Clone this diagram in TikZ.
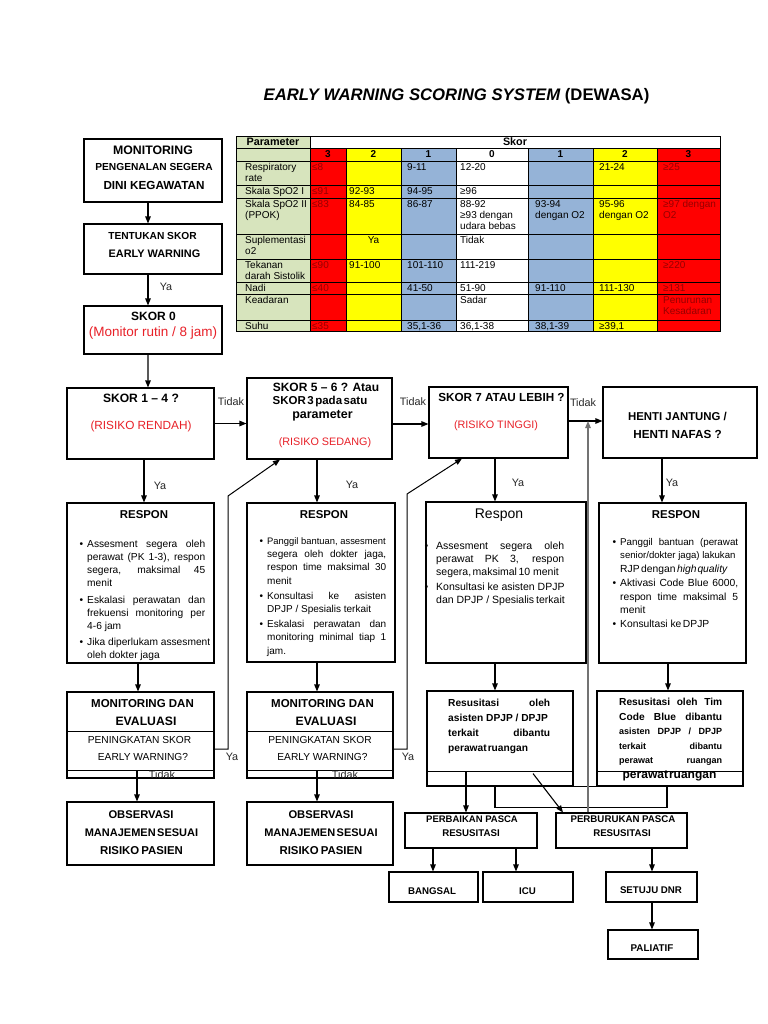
\documentclass[tikz,border=0pt]{standalone}
\usepackage{fontspec}
\setmainfont{Liberation Sans}
\usetikzlibrary{arrows.meta,fit}
\definecolor{rk}{RGB}{232,32,40}
\definecolor{tg}{RGB}{215,228,189}
\definecolor{tb}{RGB}{149,179,215}
\definecolor{ty}{RGB}{255,255,0}
\definecolor{tr}{RGB}{255,0,0}
\definecolor{tdr}{RGB}{150,0,0}
\definecolor{lg}{RGB}{40,40,40}
\definecolor{ug}{RGB}{115,115,115}
\newcommand{\fs}[2]{\fontsize{#1bp}{#2bp}\selectfont}
\newcommand{\J}[2]{\makebox[#1bp][s]{#2}}
\newcommand{\bul}{\llap{\textbullet\hspace{4bp}}}
\newcommand{\strt}[1]{\rule{0pt}{#1bp}}
\newcommand{\bx}[5]{\node[box, fit={(#2,#3) (#4,#5)}] (#1) {};}
\newcommand{\tx}[5]{\node[txt, font=\fs{#4}{#4}] (#1) at (#2,#3) {#5};}
\newcommand{\tcell}[5][black]{\node[cell,text=#1] (#2) at (#3,#4) {\strt{8}#5};}
\begin{document}
\begin{tikzpicture}[x=1bp,y=-1bp,
  box/.style={draw, line width=1.1bp, inner sep=0pt},
  arr/.style={-{Triangle[length=7bp,width=5.5bp]}, line width=1.1bp},
  txt/.style={inner sep=0pt, align=center},
  lab/.style={inner sep=0pt, font=\fs{10.8}{10.8}, text=lg},
  cell/.style={inner sep=0pt, anchor=north west, align=left, font=\fs{10}{11}},
  blist/.style={inner sep=0pt, anchor=north west, align=left},
  tl/.style={line width=0.8bp}]
\fill[white] (0,0) rectangle (768,1024);
\useasboundingbox (0,0) rectangle (768,1024);

% title
\node[txt, font=\fs{16.7}{16.7}] (title) at (456.5,96) {\bfseries\itshape EARLY WARNING SCORING SYSTEM \upshape(DEWASA)};

% ---------------- table
\fill[tg] (236,136) rectangle (310,331);
\fill[white] (310,136) rectangle (720,148);
\fill[tr] (310,148) rectangle (346,331);
\fill[ty] (346,148) rectangle (401,331);
\fill[tb] (401,148) rectangle (456,331);
\fill[white] (456,148) rectangle (528,331);
\fill[tb] (528,148) rectangle (593,331);
\fill[ty] (593,148) rectangle (657,331);
\fill[tr] (657,148) rectangle (720,331);
\draw[tl] (236,136) rectangle (720,331);
\foreach \y in {148,161,185,198,234,259,282,294,320} \draw[tl] (236,\y) -- (720,\y);
\draw[tl] (310,136) -- (310,331);
\foreach \x in {346,401,456,528,593,657} \draw[tl] (\x,148) -- (\x,331);

\node[txt, font=\fs{10.8}{10.8}\bfseries] (hpar) at (273,142) {Parameter};
\node[txt, font=\fs{10.8}{10.8}\bfseries] (hskor) at (515,142) {Skor};
\node[txt, font=\fs{10}{10}\bfseries] (n3a) at (328,154.5) {3};
\node[txt, font=\fs{10}{10}\bfseries] (n2a) at (373.5,154.5) {2};
\node[txt, font=\fs{10}{10}\bfseries] (n1a) at (428.5,154.5) {1};
\node[txt, font=\fs{10}{10}\bfseries] (n0) at (492,154.5) {0};
\node[txt, font=\fs{10}{10}\bfseries] (n1b) at (560.5,154.5) {1};
\node[txt, font=\fs{10}{10}\bfseries] (n2b) at (625,154.5) {2};
\node[txt, font=\fs{10}{10}\bfseries] (n3b) at (688.5,154.5) {3};

% respiratory
\tcell{rrp}{245}{162}{Respiratory\\rate}
\tcell[tdr]{rr3}{312}{162}{≤8}
\tcell{rr1}{407}{162}{9-11}
\tcell{rr0}{460}{162}{12-20}
\tcell{rr2b}{599}{162}{21-24}
\tcell[tdr]{rr3b}{663}{162}{≥25}
% spo2 I
\tcell{s1p}{245}{186}{Skala SpO2 I}
\tcell[tdr]{s13}{312}{186}{≤91}
\tcell{s12}{349}{186}{92-93}
\tcell{s11}{407}{186}{94-95}
\tcell{s10}{460}{186}{≥96}
% spo2 II
\tcell{s2p}{245}{199}{Skala SpO2 II\\(PPOK)}
\tcell[tdr]{s23}{312}{199}{≤83}
\tcell{s22}{349}{199}{84-85}
\tcell{s21}{407}{199}{86-87}
\tcell{s20}{460}{199}{88-92\\≥93 dengan\\udara bebas}
\tcell{s21b}{535}{199}{93-94\\dengan O2}
\tcell{s22b}{599}{199}{95-96\\dengan O2}
\tcell[tdr]{s23b}{663}{199}{≥97 dengan\\O2}
% suplementasi
\tcell{sop}{245}{235}{Suplementasi\\o2}
\node[txt, font=\fs{10}{10}] (so2) at (373.5,240) {Ya};
\tcell{so0}{460}{235}{Tidak}
% tekanan
\tcell{tdp}{245}{260}{Tekanan\\darah Sistolik}
\tcell[tdr]{td3}{312}{260}{≤90}
\tcell{td2}{349}{260}{91-100}
\tcell{td1}{407}{260}{101-110}
\tcell{td0}{460}{260}{111-219}
\tcell[tdr]{td3b}{663}{260}{≥220}
% nadi
\tcell{ndp}{245}{283}{Nadi}
\tcell[tdr]{nd3}{312}{283}{≤40}
\tcell{nd1}{407}{283}{41-50}
\tcell{nd0}{460}{283}{51-90}
\tcell{nd1b}{535}{283}{91-110}
\tcell{nd2b}{599}{283}{111-130}
\tcell[tdr]{nd3b}{663}{283}{≥131}
% keadaran
\tcell{kdp}{245}{295}{Keadaran}
\tcell{kd0}{460}{295}{Sadar}
\tcell[tdr]{kd3b}{663}{295}{Penurunan\\Kesadaran}
% suhu
\tcell{shp}{245}{321}{Suhu}
\tcell[tdr]{sh3}{312}{321}{≤35}
\tcell{sh1}{407}{321}{35,1-36}
\tcell{sh0}{460}{321}{36,1-38}
\tcell{sh1b}{535}{321}{38,1-39}
\tcell{sh2b}{599}{321}{≥39,1}

% ---------------- boxes
\bx{mon}{84}{139}{222}{202}
\bx{ten}{84}{224}{222}{274}
\bx{sk0}{84}{306}{222}{354}
\bx{s14}{67}{388}{214}{459}
\bx{s56}{247}{378}{392}{459}
\bx{s7}{429}{387}{568}{458}
\bx{hj}{603}{387}{757}{458}
\bx{r1}{67}{503}{214}{663}
\bx{r2}{247}{503}{395}{662}
\bx{r3}{426}{502}{586}{663}
\bx{r4}{599}{503}{746}{663}
\bx{m1}{67}{692}{214}{778}
\bx{m2}{247}{692}{393}{778}
\bx{o1}{67}{802}{214}{865}
\bx{o2}{247}{802}{393}{865}
\bx{rs1}{427}{691}{573}{786}
\bx{rs2}{597}{691}{743}{786}
\bx{pb}{405}{813}{537}{848}
\bx{pr}{556}{813}{687}{848}
\bx{bg}{389}{872}{478}{902}
\bx{icu}{483}{872}{573}{902}
\bx{dnr}{606}{872}{697}{902}
\bx{pal}{608}{930}{698}{959}
% inner separators
\draw[line width=1bp] (67,731) -- (214,731);
\draw[line width=1bp] (67,770) -- (214,770);
\draw[line width=1bp] (247,731) -- (393,731);
\draw[line width=1bp] (247,770) -- (393,770);
\draw[line width=1bp] (427,771) -- (573,771);
\draw[line width=1bp] (597,771) -- (743,771);
\draw[line width=1.1bp] (rs1.south east) -- (rs2.south west);

% ---------------- box texts
\tx{mon1}{153}{150}{12.3}{\bfseries MONITORING}
\tx{mon2}{154}{167}{10.2}{\bfseries PENGENALAN SEGERA}
\tx{mon3}{154}{185}{11.7}{\bfseries DINI KEGAWATAN}
\tx{ten1}{152.5}{236}{10.2}{\bfseries TENTUKAN SKOR}
\tx{ten2}{154.5}{254}{10.9}{\bfseries EARLY WARNING}
\tx{sk01}{153.5}{316}{12}{\bfseries SKOR 0}
\tx{sk02}{153}{333}{13.5}{\color{rk}(Monitor rutin / 8 jam)}
\tx{s141}{141}{398}{12.1}{\bfseries SKOR 1 – 4 ?}
\tx{s142}{141}{426}{11.8}{\color{rk}(RISIKO RENDAH)}
\tx{s561}{326}{387}{12}{\bfseries SKOR 5 – 6 ? Atau}
\tx{s562}{320}{402}{11.5}{\bfseries SKOR\hspace{1.5bp}3\hspace{1.5bp}pada\hspace{1.5bp}satu}
\tx{s563}{322.5}{416}{12.5}{\bfseries parameter}
\tx{s564}{325}{443}{10.8}{\color{rk}(RISIKO SEDANG)}
\tx{s71}{501.5}{397}{11.7}{\bfseries SKOR 7 ATAU LEBIH ?}
\tx{s72}{496}{426}{10.8}{\color{rk}(RISIKO TINGGI)}
\tx{hj1}{677.5}{416}{11.4}{\bfseries HENTI JANTUNG /}
\tx{hj2}{677.5}{434}{11.7}{\bfseries HENTI NAFAS ?}
\tx{r1h}{144}{515}{11.4}{\bfseries RESPON}
\tx{r2h}{324}{515}{11.4}{\bfseries RESPON}
\tx{r3h}{499}{515}{14}{Respon}
\tx{r4h}{676}{515}{11.4}{\bfseries RESPON}

\node[blist, font=\fs{10.2}{13.2}] (r1t) at (87,538) {\strt{9}\bul\J{118}{Assesment segera oleh}\\
 \J{118}{perawat (PK 1-3), respon}\\
 \J{118}{segera, maksimal 45}\\
 menit\\[3.3bp]
 \bul\J{118}{Eskalasi perawatan dan}\\
 \J{118}{frekuensi monitoring per}\\
 4-6 jam\\[2.8bp]
 \bul Jika diperlukam assesment\\
 oleh dokter jaga};

\node[blist, font=\fs{10}{13.3}] (r2t) at (267,535) {\strt{9}\bul{\fs{9.4}{13.3}Panggil bantuan, assesment}\\
 \J{119}{segera oleh dokter jaga,}\\
 \J{119}{respon time maksimal 30}\\
 menit\\[1.7bp]
 \bul\J{119}{Konsultasi ke asisten}\\
 DPJP / Spesialis terkait\\[1.7bp]
 \bul\J{119}{Eskalasi perawatan dan}\\
 \J{119}{monitoring minimal tiap 1}\\
 jam.};

\node[blist, font=\fs{10.5}{13.2}] (r3t) at (436,540) {\strt{9}\llap{\textbullet\hspace{8bp}}\J{128}{Assesment segera oleh}\\
 \J{128}{perawat PK 3, respon}\\
 segera,\hspace{1.5bp}maksimal\hspace{1.5bp}10 menit\\[1.8bp]
 \llap{\textbullet\hspace{8bp}}Konsultasi ke asisten DPJP\\
 dan DPJP / Spesialis\hspace{2bp}terkait};

\node[blist, font=\fs{10.3}{13.6}] (r4t) at (620,536) {\strt{9}\bul{\fs{9.8}{13.6}\J{118}{Panggil bantuan (perawat}}\\
 {\fs{9.6}{13.6}senior/dokter jaga) lakukan}\\
 RJP\hspace{1.5bp}dengan\hspace{1.5bp}\textit{high\hspace{1bp}quality}\\[0.5bp]
 \bul\J{118}{Aktivasi Code Blue 6000,}\\
 \J{118}{respon time maksimal 5}\\
 menit\\[0.5bp]
 \bul Konsultasi ke\hspace{1.5bp}DPJP};

\tx{m11}{142.5}{704}{11.5}{\bfseries MONITORING DAN}
\tx{m12}{146}{721}{12.2}{\bfseries EVALUASI}
\tx{m13}{139.5}{740}{10.2}{PENINGKATAN SKOR}
\tx{m14}{143}{757}{10.2}{EARLY WARNING?}
\tx{m21}{322.5}{704}{11.5}{\bfseries MONITORING DAN}
\tx{m22}{326}{721}{12.2}{\bfseries EVALUASI}
\tx{m23}{320}{740}{10.2}{PENINGKATAN SKOR}
\tx{m24}{322.5}{757}{10.2}{EARLY WARNING?}
\tx{o11}{141}{815}{11.2}{\bfseries OBSERVASI}
\tx{o12}{141.5}{833}{11}{\bfseries MANAJEMEN\hspace{1.5bp}SESUAI}
\tx{o13}{141.5}{851}{11.4}{\bfseries RISIKO\hspace{2bp}PASIEN}
\tx{o21}{321}{815}{11.2}{\bfseries OBSERVASI}
\tx{o22}{321}{833}{11}{\bfseries MANAJEMEN\hspace{1.5bp}SESUAI}
\tx{o23}{321}{851}{11.4}{\bfseries RISIKO\hspace{2bp}PASIEN}

\node[blist, font=\fs{10.2}{15}\bfseries] (rs1t) at (448,697.5) {\strt{9}\J{102}{Resusitasi oleh}\\
 asisten DPJP / DPJP\\
 \J{102}{terkait dibantu}\\
 perawat\hspace{1bp}ruangan};
\node[blist, font=\fs{10.2}{14.5}\bfseries] (rs2t) at (619,696.5) {\strt{9}\J{103}{Resusitasi oleh Tim}\\
 \J{103}{Code Blue dibantu}\\
 {\fs{9}{14.5}\J{103}{asisten DPJP / DPJP}}\\
 {\fs{9}{14.5}\J{103}{terkait dibantu}}\\
 {\fs{9}{14.5}\J{103}{perawat ruangan}}};
\tx{rs2u}{669.5}{776}{12}{\bfseries perawat\hspace{1bp}ruangan}

\tx{pb1}{472}{819}{9.5}{\bfseries PERBAIKAN PASCA}
\tx{pb2}{471}{833}{9.7}{\bfseries RESUSITASI}
\tx{pr1}{623}{819}{9.7}{\bfseries PERBURUKAN PASCA}
\tx{pr2}{622}{833}{9.7}{\bfseries RESUSITASI}
\tx{bg1}{432}{891}{9.7}{\bfseries BANGSAL}
\tx{icu1}{527.5}{891}{9.7}{\bfseries ICU}
\tx{dnr1}{651}{890}{9.7}{\bfseries SETUJU DNR}
\tx{pal1}{652}{948}{9.8}{\bfseries PALIATIF}

% ---------------- connectors
\draw[arr] ([xshift=-5bp]mon.south) -- ([xshift=-5bp]ten.north);
\draw[arr] ([xshift=-5bp]ten.south) -- ([xshift=-5bp]sk0.north);
\draw[arr] ([xshift=-5bp]sk0.south) -- ([xshift=7.5bp]s14.north);
\draw[arr] ([xshift=3.5bp]s14.south) -- ([xshift=3.5bp]r1.north);
\draw[arr] (s14.east) -- (s14.east -| s56.west);
\draw[arr] ([yshift=-5.5bp]s56.east) coordinate (a56) -- (a56 -| s7.west);
\draw[arr] ([yshift=1.5bp]s7.east) coordinate (a7) -- (a7 -| hj.west);
\draw[arr] ([xshift=-2.5bp]s56.south) coordinate (b56) -- (b56 |- r2.north);
\draw[arr] ([xshift=-3.5bp]s7.south) coordinate (b7) -- (b7 |- r3.north);
\draw[arr] ([xshift=-18bp]hj.south) coordinate (bh) -- (bh |- r4.north);
\draw[arr] ([xshift=-2.5bp]r1.south) coordinate (c1) -- (c1 |- m1.north);
\draw[arr] ([xshift=-4bp]r2.south) coordinate (c2) -- (c2 |- m2.north);
\draw[arr] ([xshift=-3.5bp,yshift=8bp]m1.south) coordinate (d1) -- (d1 |- o1.north);
\draw[arr] ([xshift=-3bp,yshift=8bp]m2.south) coordinate (d2) -- (d2 |- o2.north);
\draw[arr] ([xshift=-11bp]r3.south) coordinate (e3) -- (e3 |- rs1.north);
\draw[arr] ([xshift=-4.5bp]r4.south) coordinate (e4) -- (e4 |- rs2.north);
\draw[arr] ([xshift=-34bp,yshift=15bp]rs1.south) coordinate (f1) -- (f1 |- pb.north);
\draw[arr] ([xshift=33bp,yshift=13bp]rs1.south) -- ([xshift=-58.5bp]pr.north);
\draw[line width=1.1bp] ([xshift=-5bp]rs1.south) -- ++(0,21) -| ([xshift=-3bp]rs2.south);
\coordinate (X588) at (588,0);
\draw[arr, draw=ug] (pr.north -| X588) -- (a7 -| X588);
\draw[arr] ([xshift=-38bp]pb.south) coordinate (g1) -- (g1 |- bg.north);
\draw[arr] ([xshift=45bp]pb.south) coordinate (g2) -- (g2 |- icu.north);
\draw[arr] ([xshift=30.5bp]pr.south) coordinate (g3) -- (g3 |- dnr.north);
\draw[arr] ([xshift=0.5bp]dnr.south) coordinate (g4) -- (g4 |- pal.north);
\coordinate (L1) at (228,496);
\coordinate (L2) at (407,494);
\draw[arr, line width=1bp] ([yshift=-14bp]m1.east) -| (L1) -- ([xshift=-39.5bp]s56.south);
\draw[arr, line width=1bp] ([yshift=-14bp]m2.east) -| (L2) -- ([xshift=-36.5bp]s7.south);

% ---------------- labels
\node[lab] (ya0) at (166,287) {Ya};
\node[lab] (td1) at (231,402) {Tidak};
\node[lab] (td2) at (413,402) {Tidak};
\node[lab] (td3) at (583,403) {Tidak};
\node[lab] (ya1) at (160,486) {Ya};
\node[lab] (ya2) at (352,485) {Ya};
\node[lab] (ya3) at (518,483) {Ya};
\node[lab] (ya4) at (672,483) {Ya};
\node[lab] (ya5) at (232,757) {Ya};
\node[lab] (ya6) at (408,757) {Ya};
\node[lab] (td4) at (162,775) {Tidak};
\node[lab] (td5) at (345,775) {Tidak};
\end{tikzpicture}
\end{document}
